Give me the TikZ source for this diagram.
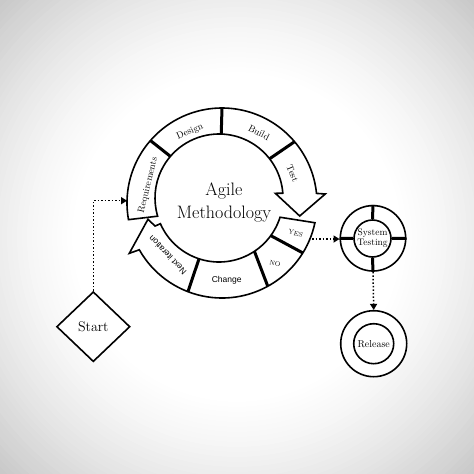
\documentclass[tikz,border=0pt]{standalone}
\usepackage{fontspec}
\newfontfamily\sansfont{Liberation Sans}
\usetikzlibrary{shapes.geometric, arrows.meta, calc}

\begin{document}
\begin{tikzpicture}[x=1pt, y=1pt,
        ring/.style={draw=black, line width=1.6pt, fill=white, line join=miter},
        divider/.style={line width=3pt},
        lbl/.style={font=\fontsize{9.5}{10}\selectfont, inner sep=0pt},
        small/.style={font=\fontsize{6.5}{7}\selectfont, inner sep=0pt},
        sans/.style={font=\sansfont\fontsize{8.5}{9}\selectfont, inner sep=0pt},
        flow/.style={dotted, line width=1.5pt, -{Triangle[length=6pt, width=7pt]}},
        disc/.style={circle, draw, line width=1.6pt, fill=white, inner sep=0pt}]
      % Background
      \useasboundingbox (0,0) rectangle (474,-474);
      \begin{scope}
        \clip (0,0) rectangle (474,-474);
        \foreach \i in {0,...,35} {
          \pgfmathsetmacro{\rr}{340-5*\i}
          \pgfmathsetmacro{\gg}{22*((\rr-160)/180)^1.4}
          \fill[black!\gg] (237,-237) circle (\rr pt);
        }
      \end{scope}

      % Ring
      \coordinate (cO) at (222,-203);
      \coordinate (cI) at (219,-198);
      \draw[ring] ($(cO)+(190.1:95)$) arc[start angle=190.1, end angle=5.8, radius=95pt]
        -- ($(cO)+(5:103.7)$) -- ($(cO)+(-9.5:78.8)$) -- ($(cO)+(10.3:54.2)$)
        -- ($(cI)+(4.3:64)$) arc[start angle=4.3, end angle=196.5, radius=64pt] -- cycle;
      \draw[ring] ($(cI)+(-17.5:64)$) -- ($(cO)+(-12:95)$) arc[start angle=-12, end angle=-150.5, radius=95pt]
        -- ($(cO)+(-151.5:105.5)$) -- ($(cO)+(-167.6:75.8)$) -- ($(cO)+(-161:70.8)$)
        -- ($(cI)+(-156.3:64)$) arc[start angle=-156.3, end angle=-17.5, radius=64pt] -- cycle;
      \draw[divider] ($(cO)+(138.9:95)$) -- ($(cI)+(139.4:64)$);
      \draw[divider] ($(cO)+(90:95)$) -- ($(cI)+(88:64)$);
      \draw[divider] ($(cO)+(40.2:95)$) -- ($(cI)+(37.8:64)$);
      \draw[divider] ($(cO)+(-31.7:95)$) -- ($(cI)+(-36:64)$);
      \draw[divider] ($(cO)+(-61.2:95)$) -- ($(cI)+(-56.4:64)$);
      \draw[divider] ($(cO)+(-111:95)$) -- ($(cI)+(-108.2:64)$);

      % Ring labels
      \node[lbl, rotate=76.3] (req) at ($(cO)+(166.3:76)$) {Requirements};
      \node[lbl, rotate=24.2] (design) at ($(cO)+(114.2:78)$) {Design};
      \node[lbl, rotate=-27.7] (build) at ($(cO)+(62.3:79.6)$) {Build};
      \node[lbl, rotate=-67.2] (test) at ($(cO)+(22.8:76.5)$) {Test};
      \node[small, rotate=-12] (yes) at (295.7,-233.3) {YES};
      \node[small, rotate=-15] (no) at (275,-263.3) {NO};
      \node[sans] (change) at (226.7,-280) {Change};
      \node[sans, rotate=133.7] (next) at ($(cO)+(-136.3:75.3)$) {Next iteration};
      \node[font=\fontsize{18}{23}\selectfont, align=center] (title) at (224,-202) {Agile\\Methodology};

      % Nodes
      \node[shape=diamond, draw, line width=1.6pt, fill=white, minimum width=73.4pt, minimum height=70pt,
        inner sep=0pt, font=\fontsize{14}{16}\selectfont] (start) at (93.3,-326.7) {Start};
      \node[disc, minimum size=65.4pt] (sysout) at (373,-238.3) {};
      \node[disc, minimum size=37pt, align=center, font=\fontsize{9.5}{10}\selectfont] (systest) at (372.5,-238.5) {System\\Testing};
      \draw[divider] (systest.north) -- (sysout.north);
      \draw[divider] (systest.south) -- (sysout.south);
      \draw[divider] (systest.west) -- (sysout.west);
      \draw[divider] (systest.east) -- (sysout.east);
      \node[disc, minimum size=66pt] (relout) at (373.7,-343.7) {};
      \node[disc, minimum size=40pt, font=\fontsize{10}{12}\selectfont] (release) at (373.7,-343.7) {Release};

      % Edges
      \coordinate (reqin) at ($(cO)+(178.6:95)$);
      \coordinate (yesout) at ($(cO)+(-21.8:97)$);
      \draw[flow] (start.north) |- (reqin);
      \draw[flow] (yesout) -- (yesout -| sysout.west);
      \draw[flow] (sysout.south) -- (relout.north);
    \end{tikzpicture}
\end{document}
